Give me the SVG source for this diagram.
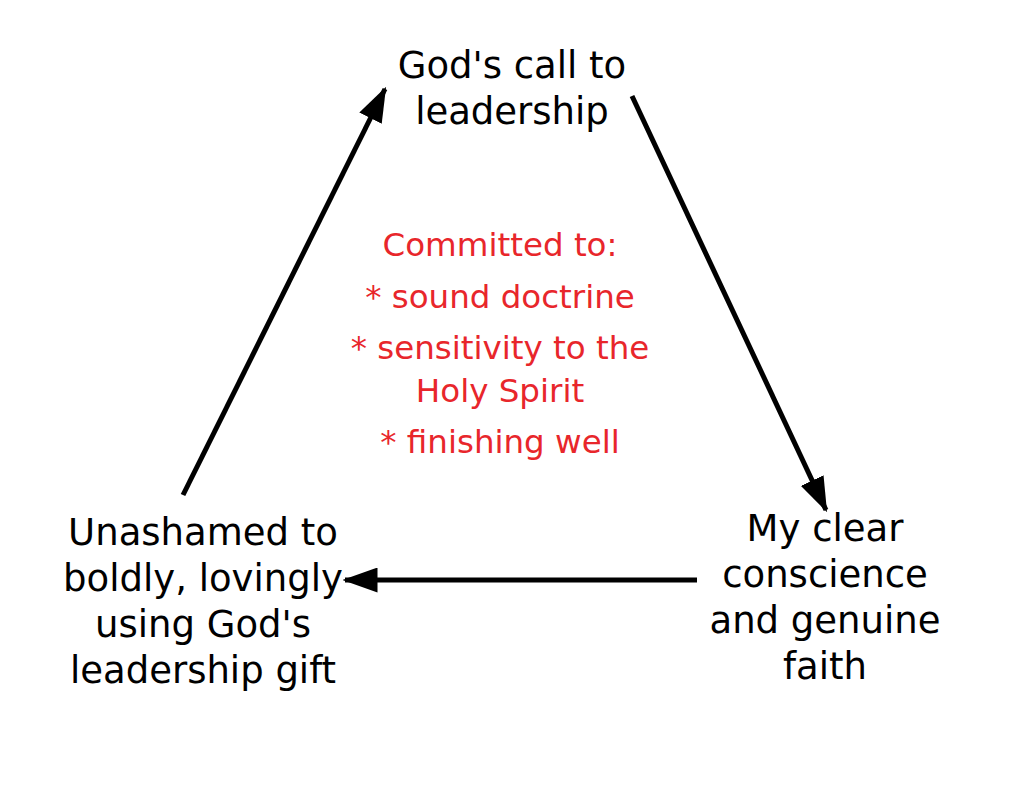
<svg xmlns="http://www.w3.org/2000/svg" width="1024" height="791" viewBox="0 0 1024 791">
<style>
.t{font-family:"DejaVu Sans","Liberation Sans",sans-serif;font-size:37px;fill:#000;text-anchor:middle}
.r{font-family:"DejaVu Sans","Liberation Sans",sans-serif;font-size:32.5px;fill:#e8262b;text-anchor:middle}
.c{stroke:#000;stroke-width:5;fill:none}
</style>
<defs>
<marker id="ah" viewBox="0 0 14 10" refX="13" refY="5" markerWidth="7" markerHeight="5" markerUnits="strokeWidth" orient="auto">
<path d="M0,0 L14,5 L0,10 Z" fill="#000"/>
</marker>
</defs>
<rect width="1024" height="791" fill="#fff"/>
<g id="connectors">
<line class="c" x1="183" y1="495" x2="385" y2="89" marker-end="url(#ah)"/>
<line class="c" x1="632" y1="96" x2="826" y2="510" marker-end="url(#ah)"/>
<line class="c" x1="697" y1="580" x2="345" y2="580" marker-end="url(#ah)"/>
</g>
<g id="top">
<text class="t" x="512" y="78">God's call to</text>
<text class="t" x="512" y="124">leadership</text>
</g>
<g id="center">
<text class="r" x="500" y="256">Committed to:</text>
<text class="r" x="500" y="308">* sound doctrine</text>
<text class="r" x="500" y="359">* sensitivity to the</text>
<text class="r" x="500" y="402">Holy Spirit</text>
<text class="r" x="500" y="453">* finishing well</text>
</g>
<g id="left">
<text class="t" x="203" y="545">Unashamed to</text>
<text class="t" x="203" y="591">boldly, lovingly</text>
<text class="t" x="203" y="637">using God's</text>
<text class="t" x="203" y="683">leadership gift</text>
</g>
<g id="right">
<text class="t" x="825" y="541">My clear</text>
<text class="t" x="825" y="587">conscience</text>
<text class="t" x="825" y="633">and genuine</text>
<text class="t" x="825" y="679">faith</text>
</g>
</svg>
